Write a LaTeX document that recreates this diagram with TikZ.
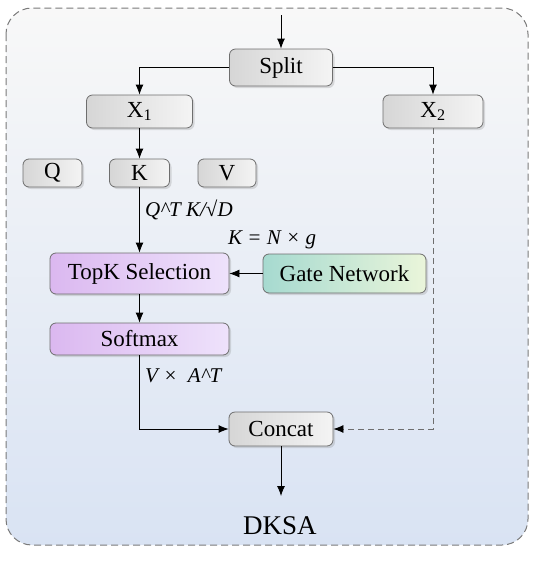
\documentclass[tikz,border=0pt]{standalone}
\usepackage{fontspec}
\setmainfont{Liberation Serif}
\usetikzlibrary{arrows.meta,shadows}

\definecolor{framegray}{HTML}{7A7A7A}
\definecolor{boxline}{HTML}{6E6E6E}
\definecolor{bgtop}{HTML}{F8F8F8}
\definecolor{bgbot}{HTML}{D9E3F3}
\definecolor{grayL}{HTML}{D6D6D6}
\definecolor{grayR}{HTML}{F4F4F4}
\definecolor{purpL}{HTML}{DBB8F0}
\definecolor{purpR}{HTML}{EEE2FB}
\definecolor{gateL}{HTML}{A6DAD0}
\definecolor{gateR}{HTML}{EAF5DA}

\tikzset{
	box/.style={draw=boxline, line width=0.8pt, rounded corners=6pt,
		inner sep=0pt, font=\fontsize{23}{27}\selectfont,
		drop shadow={shadow xshift=2pt, shadow yshift=-2pt, opacity=0.25}},
	graybox/.style={box, left color=grayL, right color=grayR},
	purplebox/.style={box, left color=purpL, right color=purpR},
	gatebox/.style={box, left color=gateL, right color=gateR},
	arr/.style={-{Latex[length=10pt,width=8pt,black]}, line width=0.8pt},
	dasharr/.style={arr, dash pattern=on 6pt off 4pt},
	mathlabel/.style={font=\fontsize{21}{25}\selectfont\itshape, inner sep=0pt}
}

\begin{document}
\begin{tikzpicture}[x=1pt,y=-1pt]
	%%%%% START %%%%%
	\useasboundingbox (0,0) rectangle (533,566);
	
	% outer frame
	\shade[top color=bgtop, bottom color=bgbot, rounded corners=26pt] (6,8) rectangle (528,545);
	\draw[framegray, line width=1pt, dash pattern=on 7pt off 4pt, rounded corners=26pt] (6,8) rectangle (528,545);
	
	% boxes
	\node[graybox, minimum width=103pt, minimum height=37pt] (split) at (281,67.5) {Split};
	\node[graybox, minimum width=106pt, minimum height=33pt] (x1) at (139.5,111.5) {X\textsubscript{1}};
	\node[graybox, minimum width=100pt, minimum height=33pt] (x2) at (433,111.5) {X\textsubscript{2}};
	
	\node[graybox, minimum width=59pt, minimum height=28pt] (q) at (52.5,173) {Q};
	\node[graybox, minimum width=60pt, minimum height=28pt] (k) at (139.5,173) {K};
	\node[graybox, minimum width=58pt, minimum height=28pt] (v) at (227,173) {V};
	
	\node[purplebox, minimum width=179pt, minimum height=41pt] (topk) at (139.5,273.5) {TopK Selection};
	\node[gatebox, minimum width=163pt, minimum height=39pt] (gate) at (344.5,273.5) {Gate Network};
	\node[purplebox, minimum width=179pt, minimum height=32pt] (softmax) at (139.5,339) {Softmax};
	
	\node[graybox, minimum width=104pt, minimum height=34pt] (concat) at (281,429) {Concat};
	
	\node[font=\fontsize{27}{32}\selectfont] (dksa) at (280,526) {DKSA};
	
	% labels
	\node[mathlabel, anchor=west] (scorelbl) at (145,210) {Q\^{}T K/√D};
	\node[mathlabel, anchor=west] (klbl) at (228,240) {K = N × g};
	\node[mathlabel, anchor=west] (vlbl) at (145,376) {V ×\ \ A\^{}T};
	
	% connectors
	\coordinate (in) at (281,15);
	\coordinate (out) at (281,496);
	\draw[arr] (in) -- (split);
	\draw[arr] (split.west) -| (x1.north);
	\draw[arr] (split.east) -| (x2.north);
	\draw[arr] (x1) -- (k);
	\draw[arr] (k) -- (topk);
	\draw[arr] (gate) -- (topk);
	\draw[arr] (topk) -- (softmax);
	\draw[arr] (softmax.south) |- (concat.west);
	\draw[dasharr, boxline] (x2.south) |- (concat.east);
	\draw[arr] (concat) -- (out);
	%%%%% END %%%%%
\end{tikzpicture}
\end{document}
